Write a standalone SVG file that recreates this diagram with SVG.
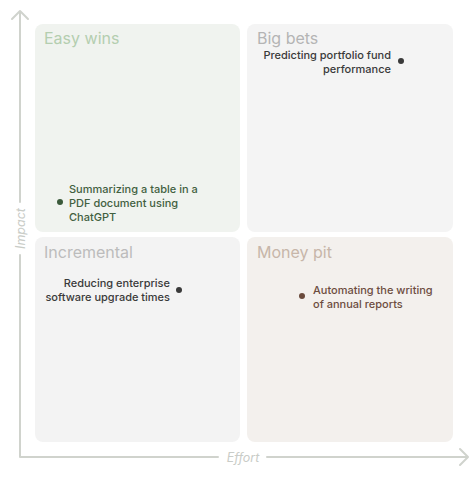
<svg xmlns="http://www.w3.org/2000/svg" width="474" height="477" viewBox="0 0 474 477">
<style>
.t{font-family:Inter,"Liberation Sans",sans-serif;font-size:16px}
.i{font-family:Inter,"Liberation Sans",sans-serif;font-size:11px;font-weight:500}
.ax{fill:none;stroke:#d0d3cd;stroke-width:2;stroke-linecap:round;stroke-linejoin:round}
.al{font-family:Inter,"Liberation Sans",sans-serif;font-size:12.5px;font-style:italic;fill:#c9ccc7}
</style>
<rect width="474" height="477" fill="#ffffff"/>
<g id="easy-wins">
<rect x="35" y="24" width="205" height="208" rx="8" fill="#f0f3ef"/>
<text class="t" x="44" y="44" fill="#b4ceaf">Easy wins</text>
</g>
<g id="big-bets">
<rect x="247" y="24" width="206" height="208" rx="8" fill="#f4f4f4"/>
<text class="t" x="257" y="44" fill="#b4b4b4">Big bets</text>
</g>
<g id="incremental">
<rect x="35" y="237" width="205" height="205" rx="8" fill="#f3f3f3"/>
<text class="t" x="44" y="258" fill="#bcbcbc">Incremental</text>
</g>
<g id="money-pit">
<rect x="247" y="237" width="206" height="205" rx="8" fill="#f3f0ed"/>
<text class="t" x="257" y="258" fill="#c7b6a9">Money pit</text>
</g>
<g id="item-predicting">
<circle cx="401" cy="61" r="3" fill="#3a3a3a"/>
<text class="i" fill="#3a3a3a" text-anchor="end"><tspan x="391" y="59">Predicting portfolio fund</tspan><tspan x="391" y="73">performance</tspan></text>
</g>
<g id="item-summarizing">
<circle cx="60" cy="202" r="3" fill="#3b5a3b"/>
<text class="i" fill="#42603f"><tspan x="69" y="193">Summarizing a table in a</tspan><tspan x="69" y="207">PDF document using</tspan><tspan x="69" y="221">ChatGPT</tspan></text>
</g>
<g id="item-reducing">
<circle cx="179" cy="290" r="3" fill="#3a3a3a"/>
<text class="i" fill="#3a3a3a" text-anchor="end"><tspan x="170" y="287">Reducing enterprise</tspan><tspan x="170" y="301">software upgrade times</tspan></text>
</g>
<g id="item-automating">
<circle cx="302" cy="296" r="3" fill="#6a4a3c"/>
<text class="i" fill="#6d4d3f"><tspan x="313" y="294">Automating the writing</tspan><tspan x="313" y="308">of annual reports</tspan></text>
</g>
<g id="axes">
<path class="ax" d="M20 12 L20 202 M20 255 L20 457 L218 457 M267 457 L467 457"/>
<path class="ax" d="M12 19 L20 11 L28 19"/>
<path class="ax" d="M460 449 L468 457 L460 465"/>
<text class="al" x="243" y="461.5" text-anchor="middle">Effort</text>
<text class="al" transform="translate(24.5 228.5) rotate(-90)" text-anchor="middle">Impact</text>
</g>
</svg>
